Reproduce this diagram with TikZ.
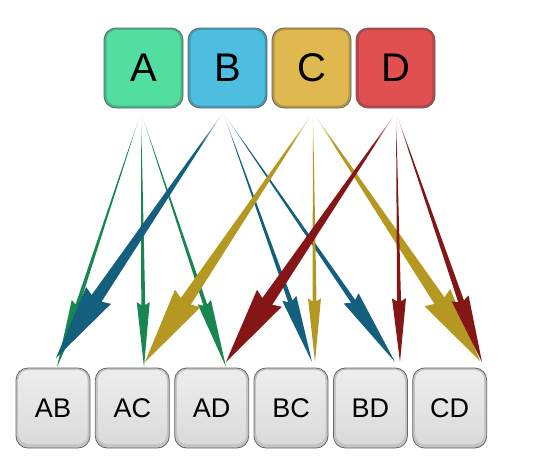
\documentclass[tikz,border=0pt]{standalone}
\usepackage{fontspec}
\setmainfont{Liberation Sans}
\usetikzlibrary{calc,fadings}
\definecolor{cA}{HTML}{52DEA0}
\definecolor{cB}{HTML}{4EBEE0}
\definecolor{cC}{HTML}{E0B850}
\definecolor{cD}{HTML}{E05050}
\definecolor{aA}{HTML}{17874F}
\definecolor{aB}{HTML}{145F7D}
\definecolor{aC}{HTML}{B49822}
\definecolor{aD}{HTML}{851616}
\definecolor{bord}{HTML}{666666}
\definecolor{gtop}{HTML}{EEEEEE}
\definecolor{gbot}{HTML}{D9D9D9}
\definecolor{gout}{HTML}{C4C4C4}
\tikzfading[name=startfade, inner color=transparent!0, outer color=transparent!100]
\tikzset{
  topbox/.style={rounded corners=12pt, minimum width=79pt, minimum height=80pt,
    inner sep=0pt, draw=bord, line width=0.8pt, fill=#1!82!black,
    font=\fontsize{40}{48}\selectfont,
    path picture={\fill[#1, rounded corners=10pt]
      ($(path picture bounding box.south west)+(2.5pt,2.5pt)$) rectangle
      ($(path picture bounding box.north east)+(-2.5pt,-2pt)$);}},
  botbox/.style={rounded corners=12pt, minimum width=74pt, minimum height=80pt,
    inner sep=0pt, draw=bord, line width=0.8pt, fill=gout,
    font=\fontsize{27}{32}\selectfont,
    path picture={\shade[top color=gtop, bottom color=gbot, rounded corners=10pt]
      ($(path picture bounding box.south west)+(2.5pt,4pt)$) rectangle
      ($(path picture bounding box.north east)+(-2.5pt,-2pt)$);}},
  fadecap/.style={white, path fading=startfade}
}
% #1 start, #2 tip, #3 colour, #4 half shaft width, #5 half head width
\newcommand\taparrow[5]{%
  \coordinate (hb) at ($(#1)!0.745!(#2)$);
  \coordinate (hj) at ($(#1)!0.757!(#2)$);
  \fill[#3] (#1) -- ($(hj)!#4!90:(#2)$) -- ($(hb)!#5!90:(#2)$) -- (#2)
    -- ($(hb)!#5!-90:(#2)$) -- ($(hj)!#4!-90:(#2)$) -- cycle;
}
\begin{document}
\begin{tikzpicture}[x=1pt,y=-1pt]
\useasboundingbox (0,0) rectangle (559,475);
% top nodes
\node[topbox=cA] (A) at (143.5,68) {A};
\node[topbox=cB] (B) at (227.5,68) {B};
\node[topbox=cC] (C) at (311.5,68) {C};
\node[topbox=cD] (D) at (395.5,68) {D};
% bottom nodes
\node[botbox] (AB) at (53,408) {AB};
\node[botbox] (AC) at (132.3,408) {AC};
\node[botbox] (AD) at (211.7,408) {AD};
\node[botbox] (BC) at (291,408) {BC};
\node[botbox] (BD) at (370.4,408) {BD};
\node[botbox] (CD) at (449.7,408) {CD};
% arrow ends
\coordinate (A-out) at ($(A.south)+(-2.5pt,-4pt)$);
\coordinate (B-out) at ($(B.south)+(-4.5pt,-4pt)$);
\coordinate (C-out) at ($(C.south)+(1.5pt,-4pt)$);
\coordinate (D-out) at ($(D.south)+(0.5pt,-4pt)$);
\coordinate (AB-inA) at (57,367);
\coordinate (AC-inA) at (144,367);
\coordinate (AD-inA) at (226,367);
\coordinate (AB-inB) at (56,358);
\coordinate (BC-inB) at (312,362);
\coordinate (BD-inB) at (395,362);
\coordinate (AC-inC) at (145,362);
\coordinate (BC-inC) at (315,362);
\coordinate (CD-inC) at (480,361);
\coordinate (AD-inD) at (226,362);
\coordinate (BD-inD) at (400,362);
\coordinate (CD-inD) at (482,362);
% arrows
\taparrow{A-out}{AB-inA}{aA}{2pt}{7pt}
\taparrow{A-out}{AC-inA}{aA}{2pt}{6.5pt}
\taparrow{A-out}{AD-inA}{aA}{2pt}{7pt}
\taparrow{B-out}{AB-inB}{aB}{6pt}{15pt}
\taparrow{B-out}{BC-inB}{aB}{2.3pt}{7.5pt}
\taparrow{B-out}{BD-inB}{aB}{2.5pt}{9pt}
\taparrow{C-out}{AC-inC}{aC}{6pt}{15.5pt}
\taparrow{C-out}{BC-inC}{aC}{2pt}{6.5pt}
\taparrow{C-out}{CD-inC}{aC}{6pt}{15.5pt}
\taparrow{D-out}{AD-inD}{aD}{6pt}{15pt}
\taparrow{D-out}{BD-inD}{aD}{2pt}{7pt}
\taparrow{D-out}{CD-inD}{aD}{3pt}{9pt}
% soft fade where the arrows leave the top boxes
\begin{scope}
  \clip (0,110) rectangle (559,200);
  \foreach \s in {A-out,B-out,C-out,D-out}
    \fill[fadecap] (\s) circle (40pt);
\end{scope}
\end{tikzpicture}
\end{document}
